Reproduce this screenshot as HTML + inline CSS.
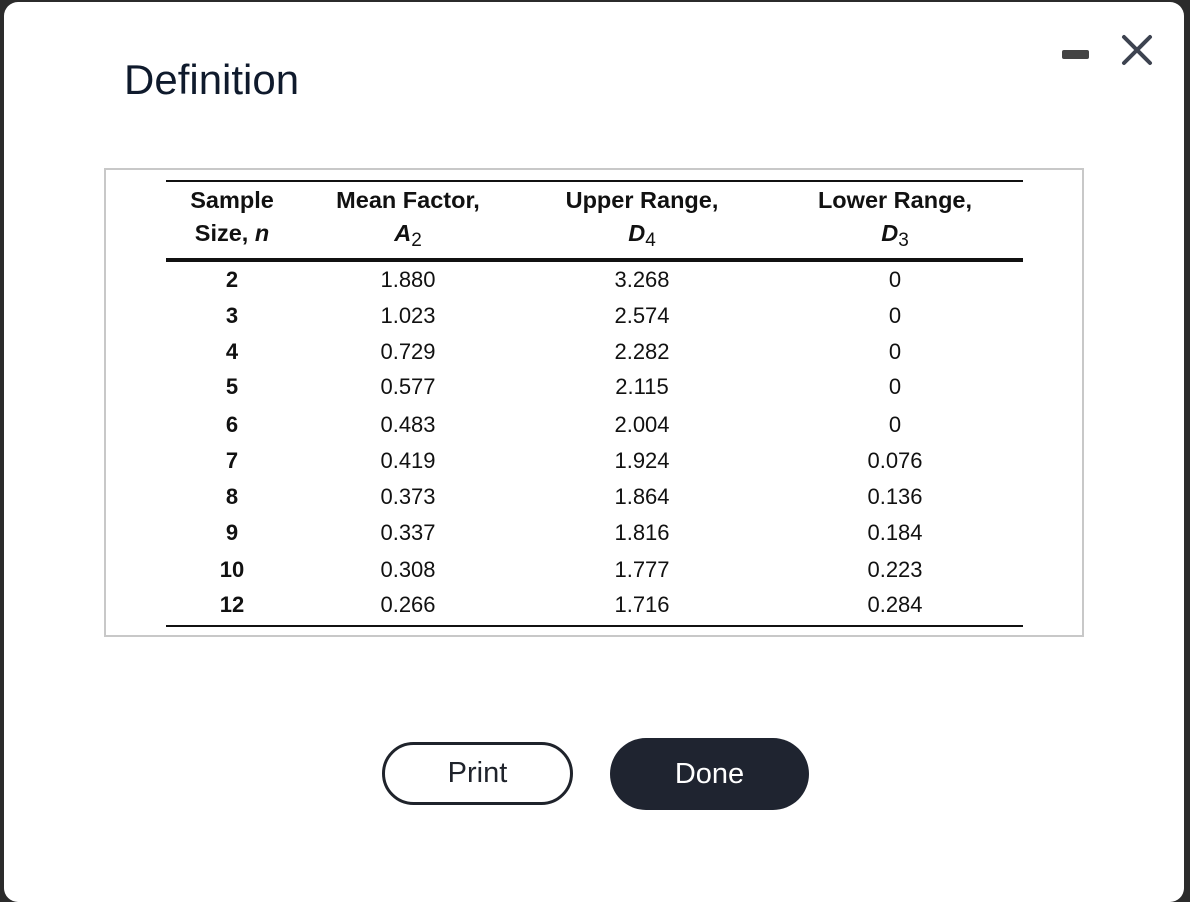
<!DOCTYPE html>
<html><head><style>
*{margin:0;padding:0;box-sizing:border-box}
body{width:1190px;height:880px;background:#2b2b2b;position:relative;overflow:hidden;font-family:"Liberation Sans",Arial,sans-serif}
#panel{position:absolute;left:4px;top:2px;width:1180px;height:900px;background:#fff;border-radius:14px}
.a{position:absolute}
.t{position:absolute;font-size:22px;color:#111;text-align:center;width:200px;line-height:24px}
.h{line-height:33px;font-size:23.5px}
.b{font-weight:bold}
sub{font-size:19px;font-weight:normal;font-style:normal;vertical-align:-5px;line-height:0}
</style></head><body>
<div id="panel"></div>
<div class="a" style="left:124px;top:56px;font-size:42px;color:#0f1a2c;letter-spacing:0px">Definition</div>
<div class="a" style="left:1062px;top:50px;width:27px;height:9px;background:#444;border-radius:2px"></div>
<svg class="a" style="left:1120px;top:34px" width="34" height="32"><path d="M4 3L30 29M30 3L4 29" stroke="#3d4350" stroke-width="4" stroke-linecap="round"/></svg>
<div class="a" style="left:104px;top:168px;width:980px;height:469px;border:2px solid #c8c8c8"></div>
<div class="a" style="left:166px;top:180px;width:857px;height:2px;background:#111"></div>
<div class="a" style="left:166px;top:258px;width:857px;height:4px;background:#111"></div>
<div class="a" style="left:166px;top:625px;width:857px;height:2px;background:#111"></div>
<div class="t b h" style="left:132px;top:184px">Sample<br>Size, <i>n</i></div>
<div class="t b h" style="left:308px;top:184px">Mean Factor,<br><i>A</i><sub>2</sub></div>
<div class="t b h" style="left:542px;top:184px">Upper Range,<br><i>D</i><sub>4</sub></div>
<div class="t b h" style="left:795px;top:184px">Lower Range,<br><i>D</i><sub>3</sub></div>
<div id="rows"></div>
<script>
var d=[["2","1.880","3.268","0"],["3","1.023","2.574","0"],["4","0.729","2.282","0"],["5","0.577","2.115","0"],["6","0.483","2.004","0"],["7","0.419","1.924","0.076"],["8","0.373","1.864","0.136"],["9","0.337","1.816","0.184"],["10","0.308","1.777","0.223"],["12","0.266","1.716","0.284"]];
var ys=[268,304,340,375,413,449,485,521,558,593],xs=[132,308,542,795],h="";
d.forEach(function(r,i){r.forEach(function(v,j){h+='<div class="t'+(j==0?' b':'')+'" style="left:'+xs[j]+'px;top:'+ys[i]+'px">'+v+'</div>';});});
document.getElementById('rows').innerHTML=h;
</script>
<div class="a" style="left:382px;top:742px;width:191px;height:63px;border:3px solid #1f232b;border-radius:32px;font-size:29px;color:#1f232b;text-align:center;line-height:57px">Print</div>
<div class="a" style="left:610px;top:738px;width:199px;height:72px;background:#1f2430;border-radius:36px;font-size:29px;color:#fff;text-align:center;line-height:72px">Done</div>
</body></html>
